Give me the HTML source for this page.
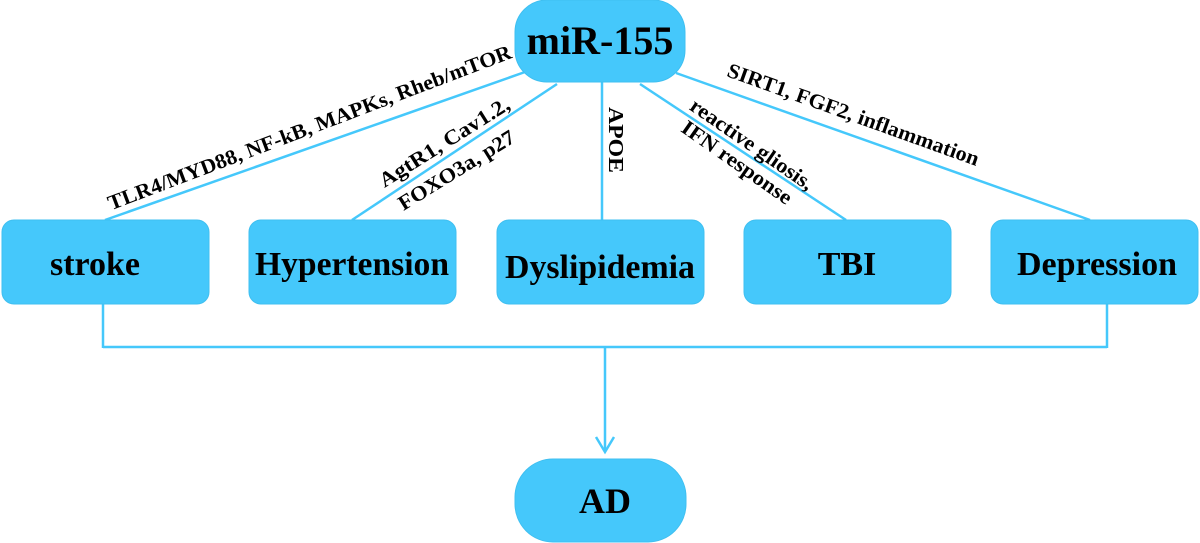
<!DOCTYPE html>
<html><head><style>
html,body{margin:0;padding:0;background:#fff;}
svg{display:block;}
text{font-family:"Liberation Serif",serif;font-weight:bold;fill:#000;}
</style></head><body>
<svg width="1200" height="543" viewBox="0 0 1200 543" xmlns="http://www.w3.org/2000/svg">
<g stroke="#45C8FB" stroke-width="2.5" fill="none">
<line x1="105" y1="220" x2="525" y2="72"/>
<line x1="352" y1="220" x2="557" y2="84"/>
<line x1="602" y1="82" x2="602" y2="220"/>
<line x1="640" y1="84" x2="846" y2="220"/>
<line x1="676" y1="73" x2="1090" y2="220"/>
<line x1="103" y1="304" x2="103" y2="348"/>
<line x1="1107" y1="304" x2="1107" y2="348"/>
<line x1="103" y1="347" x2="1107" y2="347"/>
<line x1="605" y1="347" x2="605" y2="452"/>
<polyline points="596,437 605,452 614,437"/>
</g>
<g fill="#45C8FB" stroke="#3fbff0" stroke-width="1">
<rect x="515" y="0" width="170" height="82" rx="32"/>
<rect x="2" y="220" width="207" height="84" rx="12"/>
<rect x="249" y="220" width="207" height="84" rx="12"/>
<rect x="497" y="220" width="207" height="84" rx="12"/>
<rect x="744" y="220" width="207" height="84" rx="12"/>
<rect x="991" y="220" width="207" height="84" rx="12"/>
<rect x="515" y="459" width="171" height="83" rx="38"/>
</g>
<g font-size="34" text-anchor="middle">
<text x="600" y="54" font-size="40">miR-155</text>
<text x="95" y="275">stroke</text>
<text x="352" y="275" textLength="194" lengthAdjust="spacingAndGlyphs">Hypertension</text>
<text x="600" y="278" textLength="190" lengthAdjust="spacingAndGlyphs">Dyslipidemia</text>
<text x="847" y="275">TBI</text>
<text x="1097" y="275" textLength="160" lengthAdjust="spacingAndGlyphs">Depression</text>
<text x="605" y="513" font-size="36">AD</text>
</g>
<g font-size="21" text-anchor="middle" lengthAdjust="spacingAndGlyphs">
<text transform="translate(312,134) rotate(-20.8)" textLength="430" lengthAdjust="spacingAndGlyphs">TLR4/MYD88, NF-kB, MAPKs, Rheb/mTOR</text>
<text transform="translate(448,148) rotate(-32.2)" textLength="150" lengthAdjust="spacingAndGlyphs">AgtR1, Cav1.2,</text>
<text transform="translate(460,176) rotate(-31.8)" textLength="133" lengthAdjust="spacingAndGlyphs">FOXO3a, p27</text>
<text transform="translate(609,140) rotate(90)" textLength="66" lengthAdjust="spacingAndGlyphs">APOE</text>
<text transform="translate(748,150) rotate(34.6)" textLength="145" lengthAdjust="spacingAndGlyphs">reactive gliosis,</text>
<text transform="translate(733,168) rotate(35)" textLength="130" lengthAdjust="spacingAndGlyphs">IFN response</text>
<text transform="translate(851,121) rotate(19.8)" textLength="266" lengthAdjust="spacingAndGlyphs">SIRT1, FGF2, inflammation</text>
</g>
</svg>
</body></html>
